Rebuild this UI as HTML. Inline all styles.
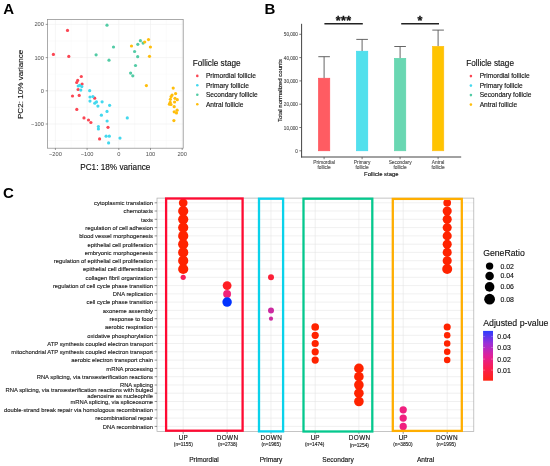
<!DOCTYPE html>
<html lang="en">
<head>
<meta charset="utf-8">
<title>Follicle stage figure</title>
<style>
html,body{margin:0;padding:0;background:#fff;}
body{width:550px;height:466px;overflow:hidden;}
svg{display:block;font-family:"Liberation Sans", Arial, sans-serif;}
</style>
</head>
<body>
<svg width="550" height="466" viewBox="0 0 550 466">
<rect width="550" height="466" fill="#fff"/>
<text x="3.2" y="13.8" font-size="15" font-weight="bold" fill="#000">A</text>
<text x="264.6" y="13.6" font-size="15" font-weight="bold" fill="#000">B</text>
<text x="3.0" y="198.3" font-size="15" font-weight="bold" fill="#000">C</text>
<rect x="47.5" y="19.6" width="135.7" height="128.6" fill="#fff"/>
<line x1="71.2" x2="71.2" y1="19.6" y2="148.2" stroke="#f5f5f5" stroke-width="0.4"/>
<line x1="103.0" x2="103.0" y1="19.6" y2="148.2" stroke="#f5f5f5" stroke-width="0.4"/>
<line x1="134.7" x2="134.7" y1="19.6" y2="148.2" stroke="#f5f5f5" stroke-width="0.4"/>
<line x1="166.3" x2="166.3" y1="19.6" y2="148.2" stroke="#f5f5f5" stroke-width="0.4"/>
<line y1="41.0" y2="41.0" x1="47.5" x2="183.2" stroke="#f5f5f5" stroke-width="0.4"/>
<line y1="74.2" y2="74.2" x1="47.5" x2="183.2" stroke="#f5f5f5" stroke-width="0.4"/>
<line y1="107.4" y2="107.4" x1="47.5" x2="183.2" stroke="#f5f5f5" stroke-width="0.4"/>
<line y1="140.6" y2="140.6" x1="47.5" x2="183.2" stroke="#f5f5f5" stroke-width="0.4"/>
<line x1="55.4" x2="55.4" y1="19.6" y2="148.2" stroke="#eeeeee" stroke-width="0.6"/>
<line x1="87.1" x2="87.1" y1="19.6" y2="148.2" stroke="#eeeeee" stroke-width="0.6"/>
<line x1="118.8" x2="118.8" y1="19.6" y2="148.2" stroke="#eeeeee" stroke-width="0.6"/>
<line x1="150.5" x2="150.5" y1="19.6" y2="148.2" stroke="#eeeeee" stroke-width="0.6"/>
<line x1="182.2" x2="182.2" y1="19.6" y2="148.2" stroke="#eeeeee" stroke-width="0.6"/>
<line y1="24.4" y2="24.4" x1="47.5" x2="183.2" stroke="#eeeeee" stroke-width="0.6"/>
<line y1="57.6" y2="57.6" x1="47.5" x2="183.2" stroke="#eeeeee" stroke-width="0.6"/>
<line y1="90.8" y2="90.8" x1="47.5" x2="183.2" stroke="#eeeeee" stroke-width="0.6"/>
<line y1="124.0" y2="124.0" x1="47.5" x2="183.2" stroke="#eeeeee" stroke-width="0.6"/>
<g fill="#FB4653"><circle cx="67.5" cy="30.4" r="1.6"/><circle cx="53.4" cy="54.4" r="1.6"/><circle cx="68.8" cy="56.4" r="1.6"/><circle cx="81.3" cy="76.5" r="1.6"/><circle cx="77.7" cy="80.4" r="1.6"/><circle cx="76.7" cy="82.5" r="1.6"/><circle cx="82.1" cy="84.0" r="1.6"/><circle cx="78.1" cy="89.5" r="1.6"/><circle cx="79.2" cy="95.4" r="1.6"/><circle cx="72.5" cy="96.0" r="1.6"/><circle cx="94.7" cy="98.2" r="1.6"/><circle cx="76.8" cy="109.4" r="1.6"/><circle cx="84.0" cy="117.9" r="1.6"/><circle cx="88.5" cy="120.0" r="1.6"/><circle cx="90.9" cy="122.5" r="1.6"/><circle cx="108.0" cy="127.3" r="1.6"/><circle cx="99.6" cy="138.9" r="1.6"/></g>
<g fill="#43D8EE"><circle cx="78.2" cy="86.0" r="1.6"/><circle cx="79.7" cy="85.3" r="1.6"/><circle cx="81.8" cy="86.6" r="1.6"/><circle cx="80.8" cy="90.1" r="1.6"/><circle cx="89.7" cy="90.7" r="1.6"/><circle cx="90.0" cy="97.0" r="1.6"/><circle cx="92.9" cy="96.6" r="1.6"/><circle cx="90.0" cy="101.1" r="1.6"/><circle cx="96.5" cy="101.9" r="1.6"/><circle cx="94.8" cy="103.2" r="1.6"/><circle cx="102.1" cy="101.8" r="1.6"/><circle cx="97.9" cy="106.1" r="1.6"/><circle cx="109.6" cy="105.3" r="1.6"/><circle cx="107.0" cy="111.4" r="1.6"/><circle cx="101.4" cy="115.2" r="1.6"/><circle cx="107.1" cy="121.0" r="1.6"/><circle cx="127.3" cy="117.9" r="1.6"/><circle cx="98.4" cy="126.6" r="1.6"/><circle cx="98.4" cy="129.0" r="1.6"/><circle cx="106.1" cy="136.2" r="1.6"/><circle cx="109.3" cy="136.2" r="1.6"/><circle cx="120.0" cy="138.1" r="1.6"/><circle cx="108.6" cy="142.9" r="1.6"/></g>
<g fill="#52CBA5"><circle cx="107" cy="25.2" r="1.6"/><circle cx="96.1" cy="54.8" r="1.6"/><circle cx="113.5" cy="47" r="1.6"/><circle cx="109" cy="60.2" r="1.6"/><circle cx="140.4" cy="40.7" r="1.6"/><circle cx="137.8" cy="44.3" r="1.6"/><circle cx="143.1" cy="43.1" r="1.6"/><circle cx="134.6" cy="51.5" r="1.6"/><circle cx="137.7" cy="56.7" r="1.6"/><circle cx="135.5" cy="65.5" r="1.6"/><circle cx="130.6" cy="73.1" r="1.6"/><circle cx="132.8" cy="75.8" r="1.6"/></g>
<g fill="#FFBE0C"><circle cx="131.5" cy="46" r="1.6"/><circle cx="144.7" cy="42.0" r="1.6"/><circle cx="148.5" cy="39.6" r="1.6"/><circle cx="150.4" cy="47.0" r="1.6"/><circle cx="149.5" cy="56.3" r="1.6"/><circle cx="146.4" cy="85.6" r="1.6"/><circle cx="173.2" cy="88.1" r="1.6"/><circle cx="175.6" cy="93.6" r="1.6"/><circle cx="172.1" cy="95.1" r="1.6"/><circle cx="171.1" cy="96.6" r="1.6"/><circle cx="175.0" cy="98.3" r="1.6"/><circle cx="170.4" cy="99.3" r="1.6"/><circle cx="177.3" cy="99.7" r="1.6"/><circle cx="174.6" cy="102.0" r="1.6"/><circle cx="170.2" cy="102.4" r="1.6"/><circle cx="169.4" cy="104.2" r="1.6"/><circle cx="171.0" cy="104.5" r="1.6"/><circle cx="174.2" cy="106.7" r="1.6"/><circle cx="177.1" cy="110.2" r="1.6"/><circle cx="174.2" cy="111.8" r="1.6"/><circle cx="176.5" cy="112.9" r="1.6"/><circle cx="173.9" cy="120.6" r="1.6"/></g>
<rect x="47.5" y="19.6" width="135.7" height="128.6" fill="none" stroke="#8f8f8f" stroke-width="0.75"/>
<line x1="55.4" x2="55.4" y1="148.2" y2="150.0" stroke="#555" stroke-width="0.6"/>
<text x="55.4" y="156.3" font-size="5.7" text-anchor="middle" fill="#4d4d4d">−200</text>
<line x1="87.1" x2="87.1" y1="148.2" y2="150.0" stroke="#555" stroke-width="0.6"/>
<text x="87.1" y="156.3" font-size="5.7" text-anchor="middle" fill="#4d4d4d">−100</text>
<line x1="118.8" x2="118.8" y1="148.2" y2="150.0" stroke="#555" stroke-width="0.6"/>
<text x="118.8" y="156.3" font-size="5.7" text-anchor="middle" fill="#4d4d4d">0</text>
<line x1="150.5" x2="150.5" y1="148.2" y2="150.0" stroke="#555" stroke-width="0.6"/>
<text x="150.5" y="156.3" font-size="5.7" text-anchor="middle" fill="#4d4d4d">100</text>
<line x1="182.2" x2="182.2" y1="148.2" y2="150.0" stroke="#555" stroke-width="0.6"/>
<text x="182.2" y="156.3" font-size="5.7" text-anchor="middle" fill="#4d4d4d">200</text>
<line y1="24.4" y2="24.4" x1="45.7" x2="47.5" stroke="#555" stroke-width="0.6"/>
<text x="43.9" y="26.4" font-size="5.7" text-anchor="end" fill="#4d4d4d">200</text>
<line y1="57.6" y2="57.6" x1="45.7" x2="47.5" stroke="#555" stroke-width="0.6"/>
<text x="43.9" y="59.6" font-size="5.7" text-anchor="end" fill="#4d4d4d">100</text>
<line y1="90.8" y2="90.8" x1="45.7" x2="47.5" stroke="#555" stroke-width="0.6"/>
<text x="43.9" y="92.8" font-size="5.7" text-anchor="end" fill="#4d4d4d">0</text>
<line y1="124.0" y2="124.0" x1="45.7" x2="47.5" stroke="#555" stroke-width="0.6"/>
<text x="43.9" y="126.0" font-size="5.7" text-anchor="end" fill="#4d4d4d">−100</text>
<text x="115.3" y="169.9" font-size="8.2" text-anchor="middle" fill="#111" stroke="#111" stroke-width="0.13">PC1: 18% variance</text>
<text x="23.2" y="84.4" font-size="8.1" text-anchor="middle" transform="rotate(-90 23.2 84.4)" fill="#111" stroke="#111" stroke-width="0.13">PC2: 10% variance</text>
<text x="192.8" y="66.0" font-size="8.2" fill="#111" stroke="#111" stroke-width="0.13">Follicle stage</text>
<circle cx="197.3" cy="75.9" r="1.3" fill="#FB4653"/>
<text x="205.9" y="78.2" font-size="6.62" fill="#111" stroke="#111" stroke-width="0.13">Primordial follicle</text>
<circle cx="197.3" cy="85.3" r="1.3" fill="#43D8EE"/>
<text x="205.9" y="87.7" font-size="6.62" fill="#111" stroke="#111" stroke-width="0.13">Primary follicle</text>
<circle cx="197.3" cy="94.8" r="1.3" fill="#52CBA5"/>
<text x="205.9" y="97.1" font-size="6.62" fill="#111" stroke="#111" stroke-width="0.13">Secondary follicle</text>
<circle cx="197.3" cy="104.2" r="1.3" fill="#FFBE0C"/>
<text x="205.9" y="106.5" font-size="6.62" fill="#111" stroke="#111" stroke-width="0.13">Antral follicle</text>
<line x1="324.1" x2="324.1" y1="56.7" y2="78.2" stroke="#555" stroke-width="0.9"/>
<line x1="318.3" x2="329.90000000000003" y1="56.7" y2="56.7" stroke="#555" stroke-width="0.9"/>
<rect x="318.4" y="78.2" width="11.4" height="72.6" fill="#FF5C62" stroke="#FF4C56" stroke-width="0.6"/>
<line x1="362.1" x2="362.1" y1="39.4" y2="51.2" stroke="#555" stroke-width="0.9"/>
<line x1="356.3" x2="367.90000000000003" y1="39.4" y2="39.4" stroke="#555" stroke-width="0.9"/>
<rect x="356.4" y="51.2" width="11.4" height="99.6" fill="#52E0EC" stroke="#3DD8F0" stroke-width="0.6"/>
<line x1="400.1" x2="400.1" y1="46.5" y2="58.3" stroke="#555" stroke-width="0.9"/>
<line x1="394.3" x2="405.90000000000003" y1="46.5" y2="46.5" stroke="#555" stroke-width="0.9"/>
<rect x="394.4" y="58.3" width="11.4" height="92.5" fill="#69D7B2" stroke="#5AD2AA" stroke-width="0.6"/>
<line x1="438.1" x2="438.1" y1="30.1" y2="46.3" stroke="#555" stroke-width="0.9"/>
<line x1="432.3" x2="443.90000000000003" y1="30.1" y2="30.1" stroke="#555" stroke-width="0.9"/>
<rect x="432.4" y="46.3" width="11.4" height="104.5" fill="#FFC400" stroke="#FFBC14" stroke-width="0.6"/>
<line x1="301.6" x2="301.6" y1="23.8" y2="157.5" stroke="#444" stroke-width="1"/>
<line x1="301.1" x2="461.2" y1="157.0" y2="157.0" stroke="#444" stroke-width="1"/>
<line x1="299.3" x2="301.6" y1="150.8" y2="150.8" stroke="#444" stroke-width="0.7"/>
<text x="297.9" y="152.8" font-size="4.6" text-anchor="end" fill="#555" stroke="#555" stroke-width="0.13">0</text>
<line x1="299.3" x2="301.6" y1="127.5" y2="127.5" stroke="#444" stroke-width="0.7"/>
<text x="297.9" y="129.5" font-size="4.6" text-anchor="end" fill="#555" stroke="#555" stroke-width="0.13">10,000</text>
<line x1="299.3" x2="301.6" y1="104.2" y2="104.2" stroke="#444" stroke-width="0.7"/>
<text x="297.9" y="106.2" font-size="4.6" text-anchor="end" fill="#555" stroke="#555" stroke-width="0.13">20,000</text>
<line x1="299.3" x2="301.6" y1="80.9" y2="80.9" stroke="#444" stroke-width="0.7"/>
<text x="297.9" y="82.9" font-size="4.6" text-anchor="end" fill="#555" stroke="#555" stroke-width="0.13">30,000</text>
<line x1="299.3" x2="301.6" y1="57.6" y2="57.6" stroke="#444" stroke-width="0.7"/>
<text x="297.9" y="59.6" font-size="4.6" text-anchor="end" fill="#555" stroke="#555" stroke-width="0.13">40,000</text>
<line x1="299.3" x2="301.6" y1="34.3" y2="34.3" stroke="#444" stroke-width="0.7"/>
<text x="297.9" y="36.3" font-size="4.6" text-anchor="end" fill="#555" stroke="#555" stroke-width="0.13">50,000</text>
<line x1="324.1" x2="324.1" y1="157.0" y2="159.2" stroke="#444" stroke-width="0.7"/>
<text x="324.1" y="163.9" font-size="4.8" text-anchor="middle" fill="#555" stroke="#555" stroke-width="0.13">Primordial</text>
<text x="324.1" y="169.1" font-size="4.8" text-anchor="middle" fill="#555" stroke="#555" stroke-width="0.13">follicle</text>
<line x1="362.1" x2="362.1" y1="157.0" y2="159.2" stroke="#444" stroke-width="0.7"/>
<text x="362.1" y="163.9" font-size="4.8" text-anchor="middle" fill="#555" stroke="#555" stroke-width="0.13">Primary</text>
<text x="362.1" y="169.1" font-size="4.8" text-anchor="middle" fill="#555" stroke="#555" stroke-width="0.13">follicle</text>
<line x1="400.1" x2="400.1" y1="157.0" y2="159.2" stroke="#444" stroke-width="0.7"/>
<text x="400.1" y="163.9" font-size="4.8" text-anchor="middle" fill="#555" stroke="#555" stroke-width="0.13">Secondary</text>
<text x="400.1" y="169.1" font-size="4.8" text-anchor="middle" fill="#555" stroke="#555" stroke-width="0.13">follicle</text>
<line x1="438.1" x2="438.1" y1="157.0" y2="159.2" stroke="#444" stroke-width="0.7"/>
<text x="438.1" y="163.9" font-size="4.8" text-anchor="middle" fill="#555" stroke="#555" stroke-width="0.13">Antral</text>
<text x="438.1" y="169.1" font-size="4.8" text-anchor="middle" fill="#555" stroke="#555" stroke-width="0.13">follicle</text>
<text x="381.3" y="175.5" font-size="5.9" text-anchor="middle" fill="#111" stroke="#111" stroke-width="0.13">Follicle stage</text>
<text x="282.4" y="90.5" font-size="6.0" text-anchor="middle" transform="rotate(-90 282.4 90.5)" fill="#111" stroke="#111" stroke-width="0.13">Total normalized counts</text>
<line x1="324.4" x2="362.8" y1="23.7" y2="23.7" stroke="#222" stroke-width="1.4"/>
<line x1="401.2" x2="439.0" y1="23.7" y2="23.7" stroke="#222" stroke-width="1.4"/>
<text x="343.7" y="25.3" font-size="12.5" text-anchor="middle" font-weight="bold" fill="#111" stroke="#111" stroke-width="0.3" letter-spacing="0.35">***</text>
<text x="419.9" y="25.0" font-size="12.5" text-anchor="middle" font-weight="bold" fill="#111" stroke="#111" stroke-width="0.3">*</text>
<text x="466.2" y="65.8" font-size="8.2" fill="#111" stroke="#111" stroke-width="0.13">Follicle stage</text>
<circle cx="470.9" cy="76.1" r="1.3" fill="#FB4653"/>
<text x="479.7" y="78.4" font-size="6.62" fill="#111" stroke="#111" stroke-width="0.13">Primordial follicle</text>
<circle cx="470.9" cy="85.6" r="1.3" fill="#43D8EE"/>
<text x="479.7" y="87.9" font-size="6.62" fill="#111" stroke="#111" stroke-width="0.13">Primary follicle</text>
<circle cx="470.9" cy="95.1" r="1.3" fill="#52CBA5"/>
<text x="479.7" y="97.4" font-size="6.62" fill="#111" stroke="#111" stroke-width="0.13">Secondary follicle</text>
<circle cx="470.9" cy="104.6" r="1.3" fill="#FFBE0C"/>
<text x="479.7" y="106.9" font-size="6.62" fill="#111" stroke="#111" stroke-width="0.13">Antral follicle</text>
<rect x="157.0" y="198.1" width="316.8" height="233.50000000000003" fill="#fff"/>
<line x1="157.0" x2="473.8" y1="202.8" y2="202.8" stroke="#e6e6e6" stroke-width="0.6"/>
<line x1="157.0" x2="473.8" y1="211.0" y2="211.0" stroke="#e6e6e6" stroke-width="0.6"/>
<line x1="157.0" x2="473.8" y1="219.3" y2="219.3" stroke="#e6e6e6" stroke-width="0.6"/>
<line x1="157.0" x2="473.8" y1="227.6" y2="227.6" stroke="#e6e6e6" stroke-width="0.6"/>
<line x1="157.0" x2="473.8" y1="235.9" y2="235.9" stroke="#e6e6e6" stroke-width="0.6"/>
<line x1="157.0" x2="473.8" y1="244.2" y2="244.2" stroke="#e6e6e6" stroke-width="0.6"/>
<line x1="157.0" x2="473.8" y1="252.4" y2="252.4" stroke="#e6e6e6" stroke-width="0.6"/>
<line x1="157.0" x2="473.8" y1="260.7" y2="260.7" stroke="#e6e6e6" stroke-width="0.6"/>
<line x1="157.0" x2="473.8" y1="269.0" y2="269.0" stroke="#e6e6e6" stroke-width="0.6"/>
<line x1="157.0" x2="473.8" y1="277.3" y2="277.3" stroke="#e6e6e6" stroke-width="0.6"/>
<line x1="157.0" x2="473.8" y1="285.6" y2="285.6" stroke="#e6e6e6" stroke-width="0.6"/>
<line x1="157.0" x2="473.8" y1="293.9" y2="293.9" stroke="#e6e6e6" stroke-width="0.6"/>
<line x1="157.0" x2="473.8" y1="302.1" y2="302.1" stroke="#e6e6e6" stroke-width="0.6"/>
<line x1="157.0" x2="473.8" y1="310.4" y2="310.4" stroke="#e6e6e6" stroke-width="0.6"/>
<line x1="157.0" x2="473.8" y1="318.7" y2="318.7" stroke="#e6e6e6" stroke-width="0.6"/>
<line x1="157.0" x2="473.8" y1="327.0" y2="327.0" stroke="#e6e6e6" stroke-width="0.6"/>
<line x1="157.0" x2="473.8" y1="335.3" y2="335.3" stroke="#e6e6e6" stroke-width="0.6"/>
<line x1="157.0" x2="473.8" y1="343.5" y2="343.5" stroke="#e6e6e6" stroke-width="0.6"/>
<line x1="157.0" x2="473.8" y1="351.8" y2="351.8" stroke="#e6e6e6" stroke-width="0.6"/>
<line x1="157.0" x2="473.8" y1="360.1" y2="360.1" stroke="#e6e6e6" stroke-width="0.6"/>
<line x1="157.0" x2="473.8" y1="368.4" y2="368.4" stroke="#e6e6e6" stroke-width="0.6"/>
<line x1="157.0" x2="473.8" y1="376.7" y2="376.7" stroke="#e6e6e6" stroke-width="0.6"/>
<line x1="157.0" x2="473.8" y1="385.0" y2="385.0" stroke="#e6e6e6" stroke-width="0.6"/>
<line x1="157.0" x2="473.8" y1="393.2" y2="393.2" stroke="#e6e6e6" stroke-width="0.6"/>
<line x1="157.0" x2="473.8" y1="401.5" y2="401.5" stroke="#e6e6e6" stroke-width="0.6"/>
<line x1="157.0" x2="473.8" y1="409.8" y2="409.8" stroke="#e6e6e6" stroke-width="0.6"/>
<line x1="157.0" x2="473.8" y1="418.1" y2="418.1" stroke="#e6e6e6" stroke-width="0.6"/>
<line x1="157.0" x2="473.8" y1="426.4" y2="426.4" stroke="#e6e6e6" stroke-width="0.6"/>
<line x1="183.2" x2="183.2" y1="198.1" y2="431.6" stroke="#e6e6e6" stroke-width="0.6"/>
<line x1="227.1" x2="227.1" y1="198.1" y2="431.6" stroke="#e6e6e6" stroke-width="0.6"/>
<line x1="271.0" x2="271.0" y1="198.1" y2="431.6" stroke="#e6e6e6" stroke-width="0.6"/>
<line x1="315.2" x2="315.2" y1="198.1" y2="431.6" stroke="#e6e6e6" stroke-width="0.6"/>
<line x1="358.9" x2="358.9" y1="198.1" y2="431.6" stroke="#e6e6e6" stroke-width="0.6"/>
<line x1="403.2" x2="403.2" y1="198.1" y2="431.6" stroke="#e6e6e6" stroke-width="0.6"/>
<line x1="447.2" x2="447.2" y1="198.1" y2="431.6" stroke="#e6e6e6" stroke-width="0.6"/>
<rect x="157.0" y="198.1" width="316.8" height="233.50000000000003" fill="none" stroke="#ababab" stroke-width="0.7"/>
<line x1="154.6" x2="157.0" y1="202.8" y2="202.8" stroke="#444" stroke-width="0.6"/>
<text x="153" y="205.1" font-size="5.83" text-anchor="end" fill="#222" stroke="#222" stroke-width="0.13">cytoplasmic translation</text>
<line x1="154.6" x2="157.0" y1="211.0" y2="211.0" stroke="#444" stroke-width="0.6"/>
<text x="153" y="213.3" font-size="5.83" text-anchor="end" fill="#222" stroke="#222" stroke-width="0.13">chemotaxis</text>
<line x1="154.6" x2="157.0" y1="219.3" y2="219.3" stroke="#444" stroke-width="0.6"/>
<text x="153" y="221.6" font-size="5.83" text-anchor="end" fill="#222" stroke="#222" stroke-width="0.13">taxis</text>
<line x1="154.6" x2="157.0" y1="227.6" y2="227.6" stroke="#444" stroke-width="0.6"/>
<text x="153" y="229.9" font-size="5.83" text-anchor="end" fill="#222" stroke="#222" stroke-width="0.13">regulation of cell adhesion</text>
<line x1="154.6" x2="157.0" y1="235.9" y2="235.9" stroke="#444" stroke-width="0.6"/>
<text x="153" y="238.2" font-size="5.83" text-anchor="end" fill="#222" stroke="#222" stroke-width="0.13">blood vessel morphogenesis</text>
<line x1="154.6" x2="157.0" y1="244.2" y2="244.2" stroke="#444" stroke-width="0.6"/>
<text x="153" y="246.5" font-size="5.83" text-anchor="end" fill="#222" stroke="#222" stroke-width="0.13">epithelial cell proliferation</text>
<line x1="154.6" x2="157.0" y1="252.4" y2="252.4" stroke="#444" stroke-width="0.6"/>
<text x="153" y="254.7" font-size="5.83" text-anchor="end" fill="#222" stroke="#222" stroke-width="0.13">embryonic morphogenesis</text>
<line x1="154.6" x2="157.0" y1="260.7" y2="260.7" stroke="#444" stroke-width="0.6"/>
<text x="153" y="263.0" font-size="5.83" text-anchor="end" fill="#222" stroke="#222" stroke-width="0.13">regulation of epithelial cell proliferation</text>
<line x1="154.6" x2="157.0" y1="269.0" y2="269.0" stroke="#444" stroke-width="0.6"/>
<text x="153" y="271.3" font-size="5.83" text-anchor="end" fill="#222" stroke="#222" stroke-width="0.13">epithelial cell differentiation</text>
<line x1="154.6" x2="157.0" y1="277.3" y2="277.3" stroke="#444" stroke-width="0.6"/>
<text x="153" y="279.6" font-size="5.83" text-anchor="end" fill="#222" stroke="#222" stroke-width="0.13">collagen fibril organization</text>
<line x1="154.6" x2="157.0" y1="285.6" y2="285.6" stroke="#444" stroke-width="0.6"/>
<text x="153" y="287.9" font-size="5.83" text-anchor="end" fill="#222" stroke="#222" stroke-width="0.13">regulation of cell cycle phase transition</text>
<line x1="154.6" x2="157.0" y1="293.9" y2="293.9" stroke="#444" stroke-width="0.6"/>
<text x="153" y="296.2" font-size="5.83" text-anchor="end" fill="#222" stroke="#222" stroke-width="0.13">DNA replication</text>
<line x1="154.6" x2="157.0" y1="302.1" y2="302.1" stroke="#444" stroke-width="0.6"/>
<text x="153" y="304.4" font-size="5.83" text-anchor="end" fill="#222" stroke="#222" stroke-width="0.13">cell cycle phase transition</text>
<line x1="154.6" x2="157.0" y1="310.4" y2="310.4" stroke="#444" stroke-width="0.6"/>
<text x="153" y="312.7" font-size="5.83" text-anchor="end" fill="#222" stroke="#222" stroke-width="0.13">axoneme assembly</text>
<line x1="154.6" x2="157.0" y1="318.7" y2="318.7" stroke="#444" stroke-width="0.6"/>
<text x="153" y="321.0" font-size="5.83" text-anchor="end" fill="#222" stroke="#222" stroke-width="0.13">response to food</text>
<line x1="154.6" x2="157.0" y1="327.0" y2="327.0" stroke="#444" stroke-width="0.6"/>
<text x="153" y="329.3" font-size="5.83" text-anchor="end" fill="#222" stroke="#222" stroke-width="0.13">aerobic respiration</text>
<line x1="154.6" x2="157.0" y1="335.3" y2="335.3" stroke="#444" stroke-width="0.6"/>
<text x="153" y="337.6" font-size="5.83" text-anchor="end" fill="#222" stroke="#222" stroke-width="0.13">oxidative phosphorylation</text>
<line x1="154.6" x2="157.0" y1="343.5" y2="343.5" stroke="#444" stroke-width="0.6"/>
<text x="153" y="345.8" font-size="5.83" text-anchor="end" fill="#222" stroke="#222" stroke-width="0.13">ATP synthesis coupled electron transport</text>
<line x1="154.6" x2="157.0" y1="351.8" y2="351.8" stroke="#444" stroke-width="0.6"/>
<text x="153" y="354.1" font-size="5.83" text-anchor="end" fill="#222" stroke="#222" stroke-width="0.13">mitochondrial ATP synthesis coupled electron transport</text>
<line x1="154.6" x2="157.0" y1="360.1" y2="360.1" stroke="#444" stroke-width="0.6"/>
<text x="153" y="362.4" font-size="5.83" text-anchor="end" fill="#222" stroke="#222" stroke-width="0.13">aerobic electron transport chain</text>
<line x1="154.6" x2="157.0" y1="368.4" y2="368.4" stroke="#444" stroke-width="0.6"/>
<text x="153" y="370.7" font-size="5.83" text-anchor="end" fill="#222" stroke="#222" stroke-width="0.13">mRNA processing</text>
<line x1="154.6" x2="157.0" y1="376.7" y2="376.7" stroke="#444" stroke-width="0.6"/>
<text x="153" y="379.0" font-size="5.83" text-anchor="end" fill="#222" stroke="#222" stroke-width="0.13">RNA splicing, via transesterification reactions</text>
<line x1="154.6" x2="157.0" y1="385.0" y2="385.0" stroke="#444" stroke-width="0.6"/>
<text x="153" y="386.6" font-size="5.83" text-anchor="end" fill="#222" stroke="#222" stroke-width="0.13">RNA splicing</text>
<line x1="154.6" x2="157.0" y1="393.2" y2="393.2" stroke="#444" stroke-width="0.6"/>
<text x="153" y="392.3" font-size="5.83" text-anchor="end" fill="#222" stroke="#222" stroke-width="0.13">RNA splicing, via transesterification reactions with bulged</text>
<text x="153" y="397.9" font-size="5.83" text-anchor="end" fill="#222" stroke="#222" stroke-width="0.13">adenosine as nucleophile</text>
<line x1="154.6" x2="157.0" y1="401.5" y2="401.5" stroke="#444" stroke-width="0.6"/>
<text x="153" y="403.8" font-size="5.83" text-anchor="end" fill="#222" stroke="#222" stroke-width="0.13">mRNA splicing, via spliceosome</text>
<line x1="154.6" x2="157.0" y1="409.8" y2="409.8" stroke="#444" stroke-width="0.6"/>
<text x="153" y="412.1" font-size="5.83" text-anchor="end" fill="#222" stroke="#222" stroke-width="0.13">double-strand break repair via homologous recombination</text>
<line x1="154.6" x2="157.0" y1="418.1" y2="418.1" stroke="#444" stroke-width="0.6"/>
<text x="153" y="420.4" font-size="5.83" text-anchor="end" fill="#222" stroke="#222" stroke-width="0.13">recombinational repair</text>
<line x1="154.6" x2="157.0" y1="426.4" y2="426.4" stroke="#444" stroke-width="0.6"/>
<text x="153" y="428.7" font-size="5.83" text-anchor="end" fill="#222" stroke="#222" stroke-width="0.13">DNA recombination</text>
<line x1="183.2" x2="183.2" y1="431.6" y2="433.8" stroke="#444" stroke-width="0.6"/>
<line x1="227.1" x2="227.1" y1="431.6" y2="433.8" stroke="#444" stroke-width="0.6"/>
<line x1="271.0" x2="271.0" y1="431.6" y2="433.8" stroke="#444" stroke-width="0.6"/>
<line x1="315.2" x2="315.2" y1="431.6" y2="433.8" stroke="#444" stroke-width="0.6"/>
<line x1="358.9" x2="358.9" y1="431.6" y2="433.8" stroke="#444" stroke-width="0.6"/>
<line x1="403.2" x2="403.2" y1="431.6" y2="433.8" stroke="#444" stroke-width="0.6"/>
<line x1="447.2" x2="447.2" y1="431.6" y2="433.8" stroke="#444" stroke-width="0.6"/>
<circle cx="183.2" cy="202.8" r="4.35" fill="#FF2300"/>
<circle cx="183.2" cy="211.0" r="5.10" fill="#FF2300"/>
<circle cx="183.2" cy="219.3" r="5.10" fill="#FF2300"/>
<circle cx="183.2" cy="227.6" r="5.10" fill="#FF2300"/>
<circle cx="183.2" cy="235.9" r="5.10" fill="#FF2300"/>
<circle cx="183.2" cy="244.2" r="5.10" fill="#FF2300"/>
<circle cx="183.2" cy="252.4" r="5.10" fill="#FF2300"/>
<circle cx="183.2" cy="260.7" r="5.10" fill="#FF2300"/>
<circle cx="183.2" cy="269.0" r="5.10" fill="#FF2300"/>
<circle cx="183.2" cy="277.3" r="2.60" fill="#F81E5A"/>
<circle cx="227.1" cy="285.6" r="4.40" fill="#FF1E23"/>
<circle cx="227.1" cy="293.9" r="3.95" fill="#F0237A"/>
<circle cx="227.1" cy="302.1" r="4.75" fill="#0032FF"/>
<circle cx="271.0" cy="277.3" r="3.00" fill="#FC2038"/>
<circle cx="271.0" cy="310.4" r="3.00" fill="#CC2AA0"/>
<circle cx="271.0" cy="318.7" r="2.10" fill="#CC2AA0"/>
<circle cx="315.2" cy="327.0" r="3.85" fill="#FF2300"/>
<circle cx="315.2" cy="335.3" r="3.60" fill="#FF2300"/>
<circle cx="315.2" cy="343.5" r="3.60" fill="#FF2300"/>
<circle cx="315.2" cy="351.8" r="3.60" fill="#FF2300"/>
<circle cx="315.2" cy="360.1" r="3.60" fill="#FF2300"/>
<circle cx="358.9" cy="368.4" r="4.80" fill="#FF2300"/>
<circle cx="358.9" cy="376.7" r="4.80" fill="#FF2300"/>
<circle cx="358.9" cy="385.0" r="4.80" fill="#FF2300"/>
<circle cx="358.9" cy="393.2" r="4.80" fill="#FF2300"/>
<circle cx="358.9" cy="401.5" r="4.80" fill="#FF2300"/>
<circle cx="403.2" cy="409.8" r="3.65" fill="#F02080"/>
<circle cx="403.2" cy="418.1" r="3.65" fill="#F02080"/>
<circle cx="403.2" cy="426.4" r="3.65" fill="#F02080"/>
<circle cx="447.2" cy="202.8" r="3.85" fill="#FF2300"/>
<circle cx="447.2" cy="211.0" r="4.55" fill="#FF2300"/>
<circle cx="447.2" cy="219.3" r="4.55" fill="#FF2300"/>
<circle cx="447.2" cy="227.6" r="4.55" fill="#FF2300"/>
<circle cx="447.2" cy="235.9" r="4.55" fill="#FF2300"/>
<circle cx="447.2" cy="244.2" r="4.55" fill="#FF2300"/>
<circle cx="447.2" cy="252.4" r="4.55" fill="#FF2300"/>
<circle cx="447.2" cy="260.7" r="4.55" fill="#FF2300"/>
<circle cx="447.2" cy="269.0" r="5.00" fill="#FF2300"/>
<circle cx="447.2" cy="327.0" r="3.55" fill="#FF2300"/>
<circle cx="447.2" cy="335.3" r="3.25" fill="#FF2300"/>
<circle cx="447.2" cy="343.5" r="3.25" fill="#FF2300"/>
<circle cx="447.2" cy="351.8" r="3.25" fill="#FF2300"/>
<circle cx="447.2" cy="360.1" r="3.25" fill="#FF2300"/>
<rect x="166.1" y="198.5" width="76.5" height="232.2" fill="none" stroke="#FF0A32" stroke-width="2.3"/>
<rect x="259.0" y="198.7" width="24.1" height="232.7" fill="none" stroke="#0AD2EB" stroke-width="2.3"/>
<rect x="303.5" y="198.7" width="68.8" height="232.8" fill="none" stroke="#05C88E" stroke-width="2.3"/>
<rect x="392.8" y="198.9" width="69.0" height="232.0" fill="none" stroke="#FFAE00" stroke-width="2.3"/>
<text x="183.3" y="440.0" font-size="6.4" text-anchor="middle" fill="#111" stroke="#111" stroke-width="0.13">UP</text>
<text x="183.3" y="445.7" font-size="4.8" text-anchor="middle" fill="#222" stroke="#222" stroke-width="0.13">(n=1155)</text>
<text x="227.6" y="440.0" font-size="6.4" text-anchor="middle" fill="#111" stroke="#111" stroke-width="0.13" letter-spacing="0.4">DOWN</text>
<text x="227.6" y="446.0" font-size="4.8" text-anchor="middle" fill="#222" stroke="#222" stroke-width="0.13">(n=2738)</text>
<text x="271.4" y="440.0" font-size="6.4" text-anchor="middle" fill="#111" stroke="#111" stroke-width="0.13" letter-spacing="0.4">DOWN</text>
<text x="271.1" y="445.7" font-size="4.8" text-anchor="middle" fill="#222" stroke="#222" stroke-width="0.13">(n=1965)</text>
<text x="315.1" y="440.0" font-size="6.4" text-anchor="middle" fill="#111" stroke="#111" stroke-width="0.13">UP</text>
<text x="314.7" y="445.7" font-size="4.8" text-anchor="middle" fill="#222" stroke="#222" stroke-width="0.13">(n=1474)</text>
<text x="359.7" y="440.0" font-size="6.4" text-anchor="middle" fill="#111" stroke="#111" stroke-width="0.13" letter-spacing="0.4">DOWN</text>
<text x="359.3" y="446.7" font-size="4.8" text-anchor="middle" fill="#222" stroke="#222" stroke-width="0.13">(n=1254)</text>
<text x="403.2" y="440.0" font-size="6.4" text-anchor="middle" fill="#111" stroke="#111" stroke-width="0.13">UP</text>
<text x="402.9" y="445.7" font-size="4.8" text-anchor="middle" fill="#222" stroke="#222" stroke-width="0.13">(n=3850)</text>
<text x="447.0" y="440.0" font-size="6.4" text-anchor="middle" fill="#111" stroke="#111" stroke-width="0.13" letter-spacing="0.4">DOWN</text>
<text x="446.2" y="446.0" font-size="4.8" text-anchor="middle" fill="#222" stroke="#222" stroke-width="0.13">(n=1995)</text>
<text x="204.0" y="462.2" font-size="6.6" text-anchor="middle" fill="#111" stroke="#111" stroke-width="0.13">Primordial</text>
<text x="271.0" y="461.9" font-size="6.6" text-anchor="middle" fill="#111" stroke="#111" stroke-width="0.13">Primary</text>
<text x="338.0" y="461.9" font-size="6.6" text-anchor="middle" fill="#111" stroke="#111" stroke-width="0.13">Secondary</text>
<text x="425.6" y="461.5" font-size="6.6" text-anchor="middle" fill="#111" stroke="#111" stroke-width="0.13">Antral</text>
<text x="483.2" y="255.8" font-size="8.7" fill="#111" stroke="#111" stroke-width="0.13">GeneRatio</text>
<circle cx="489.6" cy="266.1" r="3.7" fill="#000"/>
<text x="500.4" y="268.6" font-size="6.9" fill="#111" stroke="#111" stroke-width="0.13">0.02</text>
<circle cx="489.6" cy="276.0" r="4.3" fill="#000"/>
<text x="500.4" y="278.4" font-size="6.9" fill="#111" stroke="#111" stroke-width="0.13">0.04</text>
<circle cx="489.6" cy="286.9" r="4.8" fill="#000"/>
<text x="500.4" y="289.3" font-size="6.9" fill="#111" stroke="#111" stroke-width="0.13">0.06</text>
<circle cx="489.6" cy="299.2" r="5.4" fill="#000"/>
<text x="500.4" y="301.6" font-size="6.9" fill="#111" stroke="#111" stroke-width="0.13">0.08</text>
<text x="483.2" y="326.0" font-size="8.76" fill="#111" stroke="#111" stroke-width="0.13">Adjusted p-value</text>
<defs><linearGradient id="pg" x1="0" y1="0" x2="0" y2="1"><stop offset="0" stop-color="#2A3CFF"/><stop offset="0.25" stop-color="#9A30D8"/><stop offset="0.5" stop-color="#E0209A"/><stop offset="0.75" stop-color="#FA1E50"/><stop offset="1" stop-color="#FF2414"/></linearGradient></defs>
<rect x="483.1" y="330.9" width="9.9" height="49.8" fill="url(#pg)"/>
<line x1="483.1" x2="485.1" y1="336.3" y2="336.3" stroke="#fff" stroke-width="0.4" opacity="0.7"/>
<line x1="491" x2="493" y1="336.3" y2="336.3" stroke="#fff" stroke-width="0.4" opacity="0.7"/>
<text x="497.3" y="338.8" font-size="6.9" fill="#111" stroke="#111" stroke-width="0.13">0.04</text>
<line x1="483.1" x2="485.1" y1="347.4" y2="347.4" stroke="#fff" stroke-width="0.4" opacity="0.7"/>
<line x1="491" x2="493" y1="347.4" y2="347.4" stroke="#fff" stroke-width="0.4" opacity="0.7"/>
<text x="497.3" y="349.8" font-size="6.9" fill="#111" stroke="#111" stroke-width="0.13">0.03</text>
<line x1="483.1" x2="485.1" y1="359.1" y2="359.1" stroke="#fff" stroke-width="0.4" opacity="0.7"/>
<line x1="491" x2="493" y1="359.1" y2="359.1" stroke="#fff" stroke-width="0.4" opacity="0.7"/>
<text x="497.3" y="361.6" font-size="6.9" fill="#111" stroke="#111" stroke-width="0.13">0.02</text>
<line x1="483.1" x2="485.1" y1="370.1" y2="370.1" stroke="#fff" stroke-width="0.4" opacity="0.7"/>
<line x1="491" x2="493" y1="370.1" y2="370.1" stroke="#fff" stroke-width="0.4" opacity="0.7"/>
<text x="497.3" y="372.6" font-size="6.9" fill="#111" stroke="#111" stroke-width="0.13">0.01</text>
</svg>
</body>
</html>
